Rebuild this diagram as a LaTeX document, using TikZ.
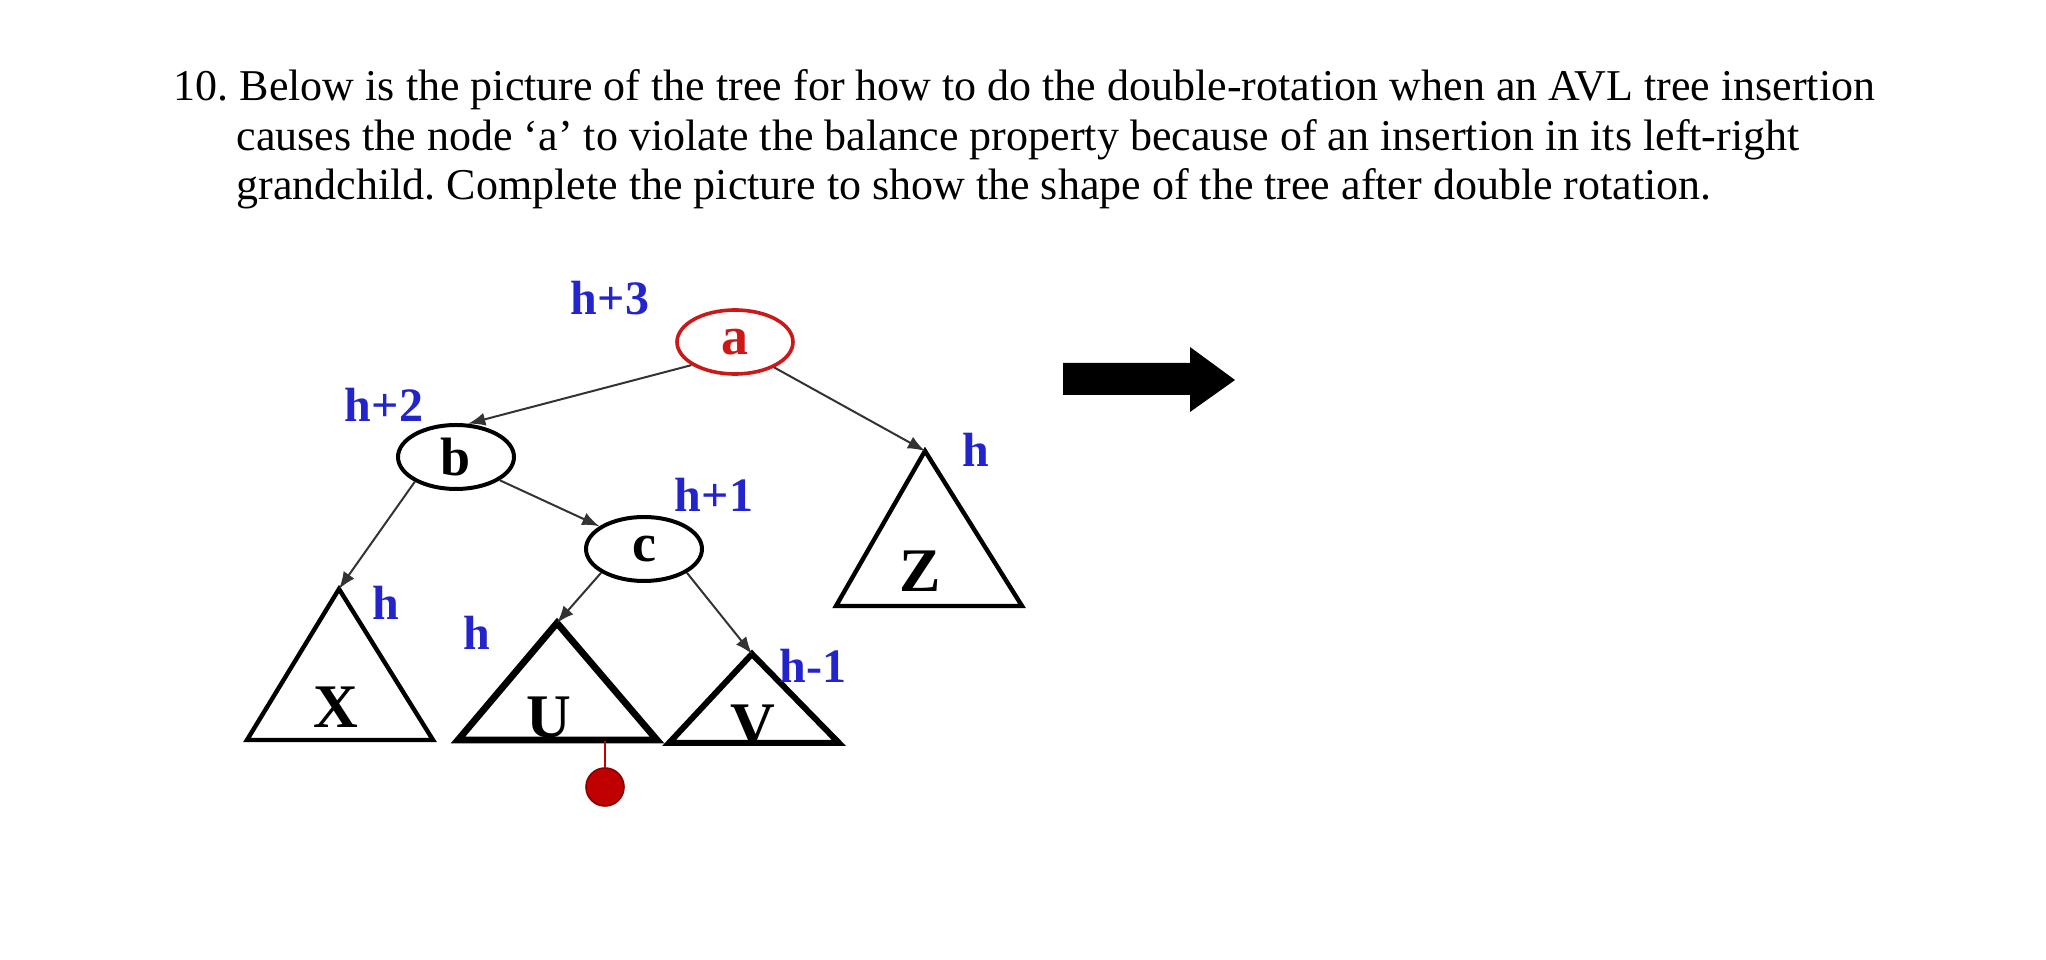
\documentclass[tikz,border=0pt]{standalone}
\usepackage{fontspec}
\setmainfont{Liberation Serif}
\usepackage{color}
\definecolor{myblue}{RGB}{36,36,204}
\definecolor{myred}{RGB}{204,24,24}
\definecolor{mydarkred}{RGB}{192,0,0}
\usepackage{tikz}
\usetikzlibrary{arrows,shapes.geometric,positioning,calc}
\frenchspacing

\begin{document}
\begin{tikzpicture}[
  x=0.25pt, y=-0.25pt,
  treenode/.style={
    draw,
    ellipse,
    line width=1pt,
    minimum width=29pt,
    minimum height=16pt,
    inner sep=0pt,
    font=\fontsize{13.5}{15}\selectfont\bfseries
    },
  hlabel/.style={anchor=base, text=myblue, font=\fontsize{12}{14}\selectfont\bfseries},
  subname/.style={anchor=base, font=\fontsize{15.5}{18}\selectfont\bfseries},
  link/.style={draw=black!80, line width=0.5pt, -latex},
  subtree/.style={draw, line width=#1},
  question/.style={anchor=base west, inner sep=0pt, font=\fontsize{11}{13}\selectfont}
]
\useasboundingbox (0,0) rectangle (2046,960);

% question text
\node[question] (q1) at (173,101) {10. Below is the picture of the tree for how to do the double-rotation when an AVL tree insertion};
\node[question] (q2) at (236,151) {causes the node ‘a’ to violate the balance property because of an insertion in its left-right};
\node[question] (q3) at (236,200) {grandchild. Complete the picture to show the shape of the tree after double rotation.};

% tree nodes
\node[treenode, draw=myred, text=myred, line width=0.9pt] (a) at (735,342) {a};
\node[treenode] (b) at (456,457) {b};
\node[treenode] (c) at (644,549) {c};

% subtrees
\coordinate (Xtop) at (339,589);
\coordinate (Utop) at (557,623);
\coordinate (Vtop) at (752,654);
\coordinate (Ztop) at (925,451);
\foreach \T/\Lx/\Rx/\By/\W in {X/247/433/740/1.1pt, U/458/657/740/1.7pt, V/669/839/743/1.5pt, Z/836/1022/606/1.1pt}
  \draw[subtree=\W] (\T top) -- (\Lx,\By) -- (\Rx,\By) -- cycle;

\node[subname] (X) at (336,728) {X};
\node[subname] (U) at (549,738) {U};
\node[subname] (V) at (753,746) {V};
\node[subname] (Z) at (920,592) {Z};

% links
\draw[link] (a.208) -- (b.70);
\draw[link] (a.327) -- (Ztop);
\draw[link] (b.211) -- (Xtop);
\draw[link] (b.332) -- (c.153);
\draw[link] (c.209) -- (Utop);
\draw[link] (c.331) -- (Vtop);

% heights
\foreach \Txt/\Px/\Py [count=\Hi from 1] in {h+3/610/315, h+2/384/422, h+1/714/512, h/976/467, h/386/620, h/477/650, h-1/813/683}
  \node[hlabel] (h\Hi) at (\Px,\Py) {\Txt};

% inserted node
\coordinate (Ubase) at (605,741);
\node[circle, fill=mydarkred, draw=mydarkred!70!black, line width=0.4pt, minimum size=9.5pt, inner sep=0pt] (new) at (605,787) {};
\draw[mydarkred, line width=0.5pt] (Ubase) -- (new.north);

% rotation arrow
\fill (1063,363) -- (1190,363) -- (1190,347) -- (1235,380) -- (1190,412) -- (1190,395) -- (1063,395) -- cycle;
\end{tikzpicture}
\end{document}
